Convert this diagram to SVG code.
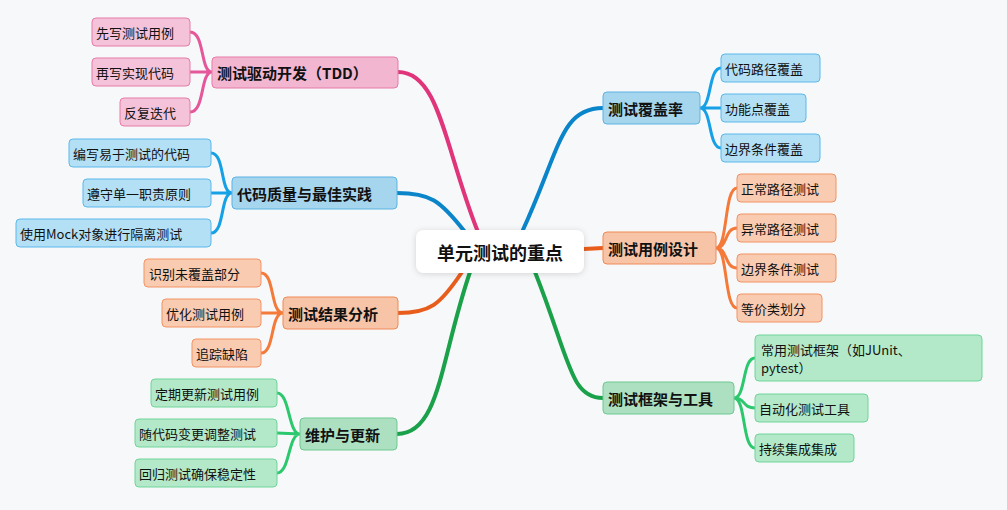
<svg xmlns="http://www.w3.org/2000/svg" width="1007" height="510" viewBox="0 0 1007 510">
<defs><filter id="sh" x="-20%" y="-40%" width="140%" height="180%"><feDropShadow dx="0" dy="1" stdDeviation="3" flood-color="#000" flood-opacity="0.15"/></filter></defs>
<style>
text{font-family:"Noto Sans CJK SC","Noto Sans",sans-serif;fill:#111;dominant-baseline:central}
.l{font-size:13px}.b{font-size:15px;font-weight:bold}
.c{fill:none;stroke-linecap:round}
.m{stroke-width:4}.s{stroke-width:3}
.pk{fill:#f2b6d1;stroke:#e77aa8}.pkl{fill:#f5c3d9;stroke:#e77aa8}
.bl{fill:#a6d5ee;stroke:#5bb4e3}.bll{fill:#b4e0f6;stroke:#5bb8ea}
.or{fill:#f7c4a8;stroke:#f08a55}.orl{fill:#f9cbb1;stroke:#f29363}
.gr{fill:#ade0c1;stroke:#6cc991}.grl{fill:#b3e9c8;stroke:#6fd59a}
</style>
<rect width="1007" height="510" fill="#f7f8fa"/>
<g id="connectors">
<path class="c m" stroke="#e0357a" d="M478,232 C445,150 440,72 398,72"/>
<path class="c s" stroke="#e5579a" d="M190,32 C205,32 200,72 212,72 M190,72 L212,72 M190,112 C205,112 200,72 212,72"/>
<path class="c m" stroke="#0a85c9" d="M465,232 C440,200 430,193 397,193"/>
<path class="c s" stroke="#16a0e6" d="M211,153 C225,153 220,193 232,193 M211,193 L232,193 M211,233 C225,233 220,193 232,193"/>
<path class="c m" stroke="#e85d1c" d="M462,272 C440,305 430,313 398,313"/>
<path class="c s" stroke="#f47a3a" d="M261,273 C275,273 270,313 283,313 M261,313 L283,313 M261,353 C275,353 270,313 283,313"/>
<path class="c m" stroke="#1aa14a" d="M470,272 C440,360 440,434 397,434"/>
<path class="c s" stroke="#2cc86e" d="M277,393 C290,393 288,434 300,434 M277,433 L300,434 M277,473 C290,473 288,434 300,434"/>
<path class="c m" stroke="#0a85c9" d="M522,232 C560,150 560,108 603,108"/>
<path class="c s" stroke="#16a0e6" d="M700,108 C712,108 708,68 721,68 M700,108 L721,108 M700,108 C712,108 708,148 721,148"/>
<path class="c m" stroke="#e85d1c" d="M584,249 L603,248"/>
<path class="c s" stroke="#f47a3a" d="M716,248 C728,248 724,188 737,188 M716,248 C728,248 724,228 737,228 M716,248 C728,248 724,268 737,268 M716,248 C728,248 724,308 737,308"/>
<path class="c m" stroke="#1aa14a" d="M535,272 C570,360 570,398 603,398"/>
<path class="c s" stroke="#2cc86e" d="M734,398 C746,398 742,358 755,358 M734,398 C746,398 742,408 755,408 M734,398 C746,398 742,448 755,448"/>
</g>
<g id="center"><rect x="416" y="230" width="168" height="43" rx="8" fill="#fff" filter="url(#sh)"/><text x="500" y="252" text-anchor="middle" style="font-size:18px;font-weight:bold">单元测试的重点</text></g>
<g id="tdd"><rect class="pk" x="212" y="57" width="186" height="31" rx="4"/><text class="b" x="217" y="72">测试驱动开发（TDD）</text></g>
<g id="tdd1"><rect class="pkl" x="92" y="18" width="98" height="28" rx="4"/><text class="l" x="96" y="32">先写测试用例</text></g>
<g id="tdd2"><rect class="pkl" x="92" y="58" width="98" height="28" rx="4"/><text class="l" x="96" y="72">再写实现代码</text></g>
<g id="tdd3"><rect class="pkl" x="120" y="98" width="70" height="28" rx="4"/><text class="l" x="124" y="112">反复迭代</text></g>
<g id="cq"><rect class="bl" x="232" y="177" width="165" height="32" rx="4"/><text class="b" x="237" y="193">代码质量与最佳实践</text></g>
<g id="cq1"><rect class="bll" x="69" y="139" width="142" height="28" rx="4"/><text class="l" x="73" y="153">编写易于测试的代码</text></g>
<g id="cq2"><rect class="bll" x="83" y="179" width="128" height="28" rx="4"/><text class="l" x="87" y="193">遵守单一职责原则</text></g>
<g id="cq3"><rect class="bll" x="16" y="219" width="195" height="28" rx="4"/><text class="l" x="20" y="233">使用Mock对象进行隔离测试</text></g>
<g id="ra"><rect class="or" x="283" y="297" width="115" height="32" rx="4"/><text class="b" x="288" y="313">测试结果分析</text></g>
<g id="ra1"><rect class="orl" x="144" y="259" width="117" height="28" rx="4"/><text class="l" x="149" y="273">识别未覆盖部分</text></g>
<g id="ra2"><rect class="orl" x="162" y="299" width="99" height="28" rx="4"/><text class="l" x="166" y="313">优化测试用例</text></g>
<g id="ra3"><rect class="orl" x="192" y="339" width="69" height="28" rx="4"/><text class="l" x="196" y="353">追踪缺陷</text></g>
<g id="mu"><rect class="gr" x="300" y="418" width="97" height="32" rx="4"/><text class="b" x="305" y="434">维护与更新</text></g>
<g id="mu1"><rect class="grl" x="151" y="379" width="126" height="28" rx="4"/><text class="l" x="155" y="393">定期更新测试用例</text></g>
<g id="mu2"><rect class="grl" x="135" y="419" width="142" height="28" rx="4"/><text class="l" x="139" y="433">随代码变更调整测试</text></g>
<g id="mu3"><rect class="grl" x="135" y="459" width="142" height="28" rx="4"/><text class="l" x="139" y="473">回归测试确保稳定性</text></g>
<g id="cov"><rect class="bl" x="603" y="92" width="97" height="32" rx="4"/><text class="b" x="608" y="108">测试覆盖率</text></g>
<g id="cov1"><rect class="bll" x="721" y="54" width="99" height="28" rx="4"/><text class="l" x="725" y="68">代码路径覆盖</text></g>
<g id="cov2"><rect class="bll" x="721" y="94" width="85" height="28" rx="4"/><text class="l" x="725" y="108">功能点覆盖</text></g>
<g id="cov3"><rect class="bll" x="721" y="134" width="99" height="28" rx="4"/><text class="l" x="725" y="148">边界条件覆盖</text></g>
<g id="td"><rect class="or" x="603" y="232" width="113" height="32" rx="4"/><text class="b" x="608" y="248">测试用例设计</text></g>
<g id="td1"><rect class="orl" x="737" y="174" width="99" height="28" rx="4"/><text class="l" x="741" y="188">正常路径测试</text></g>
<g id="td2"><rect class="orl" x="737" y="214" width="99" height="28" rx="4"/><text class="l" x="741" y="228">异常路径测试</text></g>
<g id="td3"><rect class="orl" x="737" y="254" width="99" height="28" rx="4"/><text class="l" x="741" y="268">边界条件测试</text></g>
<g id="td4"><rect class="orl" x="737" y="294" width="85" height="28" rx="4"/><text class="l" x="741" y="308">等价类划分</text></g>
<g id="fw"><rect class="gr" x="603" y="382" width="131" height="32" rx="4"/><text class="b" x="608" y="398">测试框架与工具</text></g>
<g id="fw1"><rect class="grl" x="755" y="335" width="227" height="46" rx="4"/><text class="l" x="761" y="349">常用测试框架（如JUnit、</text><text class="l" x="761" y="367">pytest）</text></g>
<g id="fw2"><rect class="grl" x="755" y="394" width="113" height="28" rx="4"/><text class="l" x="759" y="408">自动化测试工具</text></g>
<g id="fw3"><rect class="grl" x="755" y="434" width="99" height="28" rx="4"/><text class="l" x="759" y="448">持续集成集成</text></g>
</svg>
